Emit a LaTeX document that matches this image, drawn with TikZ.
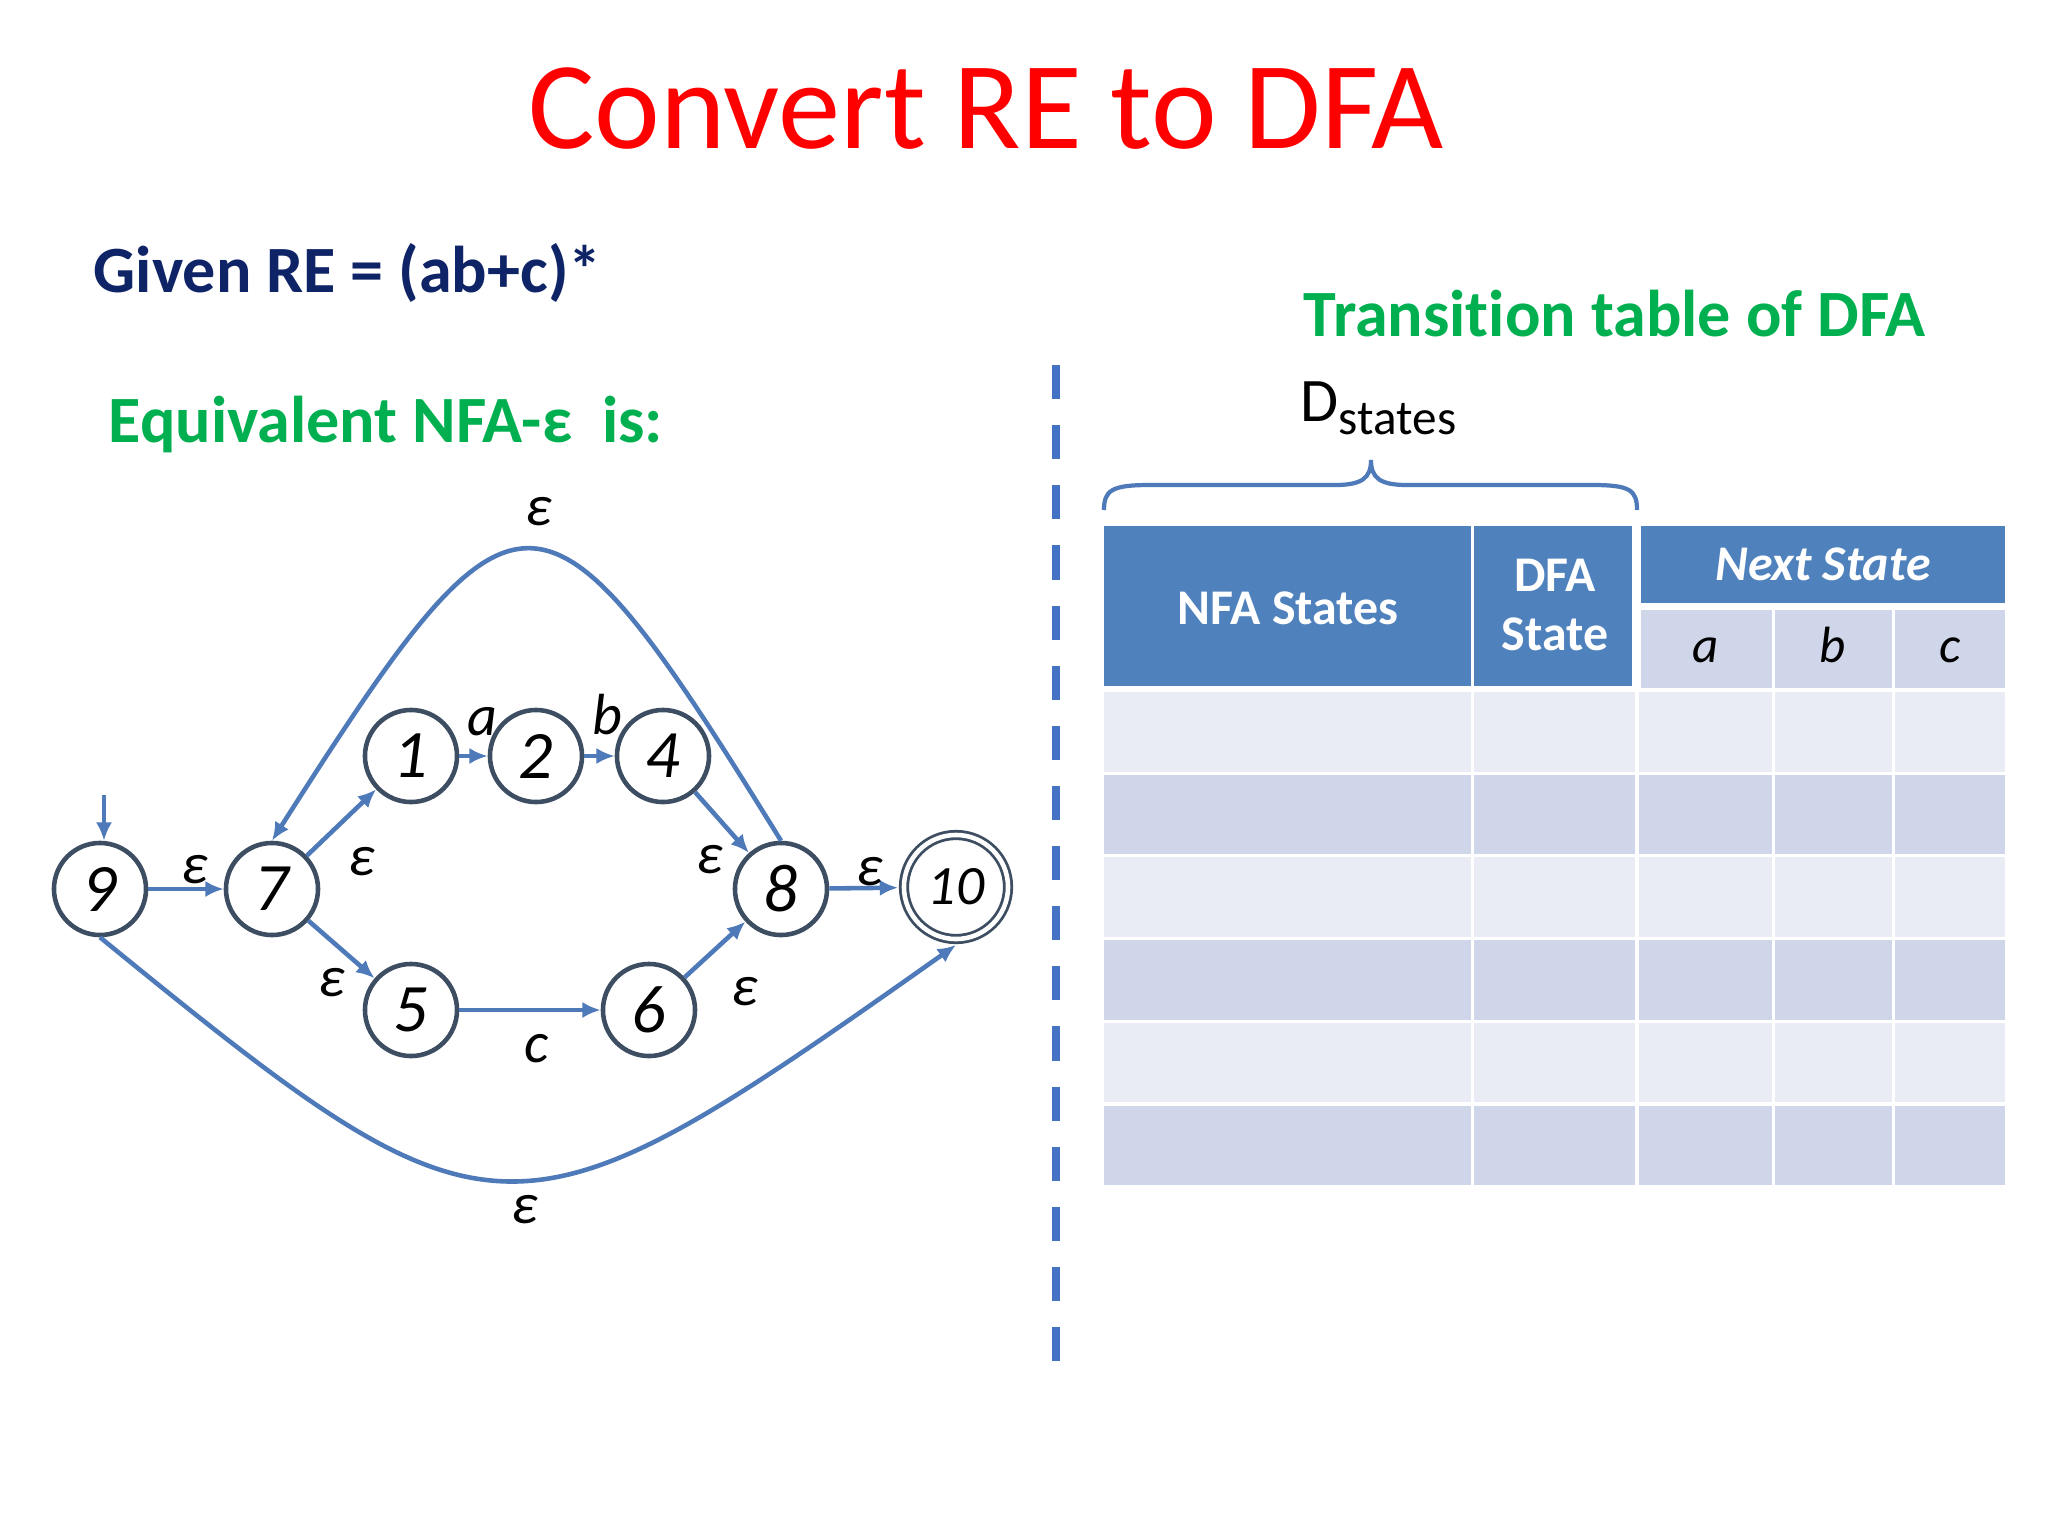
\documentclass[tikz,border=0pt]{standalone}
\usepackage{fontspec}
\setmainfont{Carlito}[Ligatures=NoCommon]
\usetikzlibrary{arrows.meta}
\definecolor{titlered}{RGB}{255,0,0}
\definecolor{navy}{RGB}{15,36,102}
\definecolor{grn}{RGB}{0,176,80}
\definecolor{hdr}{RGB}{79,129,189}
\definecolor{rowlt}{RGB}{233,235,245}
\definecolor{rowdk}{RGB}{208,214,233}
\definecolor{edgeblue}{RGB}{79,122,185}
\definecolor{ring}{RGB}{62,78,98}
\definecolor{dashblue}{RGB}{68,114,196}
\tikzset{
  nstate/.style={circle, draw=ring, line width=1.3pt, fill=white, minimum size=0.92cm, inner sep=0pt,
    font=\fontsize{19.3}{22}\selectfont\itshape},
  arr/.style={draw=edgeblue, line width=1.3pt, -{Latex[length=5.2pt,width=4.6pt]}},
  lbl/.style={font=\fontsize{16.5}{19}\selectfont\itshape, inner sep=0pt},
  headbig/.style={font=\fontsize{18.8}{22}\selectfont\bfseries, inner sep=0pt},
  hdrtext/.style={text=white, font=\fontsize{14.2}{17}\selectfont\bfseries, inner sep=0pt},
  dashln/.style={draw=dashblue, line width=2.3pt, dash pattern=on 9.7pt off 7.4pt},
  bracestyle/.style={draw=edgeblue, line width=1.2pt}
}
\begin{document}
\begin{tikzpicture}[x=0.01cm, y=-0.01cm]
\useasboundingbox (0,0) rectangle (2048,1536);
\fill[white] (0,0) rectangle (2048,1536);

% titles
\node[anchor=base, inner sep=0pt, text=titlered, font=\fontsize{35.4}{40}\selectfont] (title) at (986,148) {Convert RE to DFA};
\node[anchor=base west, headbig, text=navy] (given) at (93,292) {Given RE = (ab+c)*};
\node[anchor=base west, headbig, text=grn] (equiv) at (108,442) {Equivalent NFA-ε~ is:};
\node[anchor=base west, headbig, text=grn] (trans) at (1303,336) {Transition table of DFA};
\node[anchor=base west, inner sep=0pt, font=\fontsize{17.6}{20}\selectfont] (dstates) at (1300,421)
  {D\raisebox{-3.7pt}{\fontsize{14}{16}\selectfont states}};

% dashed divider
\draw[dashln] (1056,365) -- (1056,1382);

% brace
\draw[bracestyle] (1104,510) .. controls (1104,490) and (1112,485) .. (1150,485) -- (1335,485)
  .. controls (1362,485) and (1371,478) .. (1371,460)
  .. controls (1371,478) and (1380,485) .. (1407,485) -- (1592,485)
  .. controls (1630,485) and (1637,490) .. (1637,510);

% table header
\fill[hdr] (1104,526) rectangle (1471,686);
\fill[hdr] (1474,526) rectangle (1632,686);
\fill[hdr] (1641,526) rectangle (2005,603);
\fill[rowdk] (1641,610) rectangle (1772,688);
\fill[rowdk] (1775,610) rectangle (1892,688);
\fill[rowdk] (1895,610) rectangle (2005,688);
\node[hdrtext, anchor=base] (hnfa) at (1288,624) {NFA States};
\node[hdrtext, align=center, font=\fontsize{14.2}{17}\selectfont\bfseries] (hdfa) at (1555,605) {DFA\\[-0.2pt]State};
\node[hdrtext, anchor=base, font=\fontsize{14.2}{17}\selectfont\bfseries\itshape] (hnext) at (1823,580) {Next State};
\node[anchor=base, inner sep=0pt, font=\fontsize{14.5}{17}\selectfont\itshape] (ha) at (1706,662) {a};
\node[anchor=base, inner sep=0pt, font=\fontsize{14.5}{17}\selectfont\itshape] (hb) at (1833,662) {b};
\node[anchor=base, inner sep=0pt, font=\fontsize{14.5}{17}\selectfont\itshape] (hc) at (1950,662) {c};

% table body
\foreach \i in {0,...,5} {
  \pgfmathsetmacro\yt{692+82.7*\i}
  \pgfmathsetmacro\yb{\yt+79.5}
  \pgfmathtruncatemacro\odd{mod(\i,2)}
  \ifnum\odd=0 \def\rc{rowlt}\else\def\rc{rowdk}\fi
  \foreach \xa/\xb in {1104/1471,1474/1635,1639/1772,1775/1892,1895/2005}
    \fill[\rc] (\xa,\yt) rectangle (\xb,\yb);
}

% NFA states
\node[nstate] (n9) at (100,889) {9};
\node[nstate] (n7) at (272,889) {7};
\node[nstate] (n1) at (411,756) {1};
\node[nstate] (n2) at (536,756) {2};
\node[nstate] (n4) at (663,756) {4};
\node[nstate] (n8) at (781,889) {8};
\node[nstate] (n5) at (411,1010) {5};
\node[nstate] (n6) at (649,1010) {6};
\node[nstate, minimum size=1.04cm, line width=0.8pt, double=white, double distance=1.3pt, outer sep=1.7pt,
  font=\fontsize{15.8}{18}\selectfont\itshape] (n10) at (956,887) {10};

% edges
\coordinate (start) at (104,795);
\draw[arr] (start) -- (n9.north -| start);
\draw[arr] (n9) -- (n7);
\draw[arr] (n7) -- (n1);
\draw[arr] (n7) -- (n5);
\draw[arr] (n1) -- (n2);
\draw[arr] (n2) -- (n4);
\draw[arr] (n4) -- (n8);
\draw[arr] (n5) -- (n6);
\draw[arr] (n6) -- (n8);
\draw[arr] (n8) -- (n10);
\draw[arr] (n8.north) .. controls (541,453) and (519,453) .. (n7.north);
\draw[arr] (n9.south) .. controls (496,1260) and (510,1260) .. (n10.south);

% edge labels
\node[lbl] (l97) at (195,870) {ε};
\node[lbl] (l71) at (362,862) {ε};
\node[lbl] (l75) at (332,983) {ε};
\node[lbl] (l12) at (482,722) {a};
\node[lbl] (l24) at (607,715) {b};
\node[lbl] (l48) at (710,860) {ε};
\node[lbl] (l68) at (745,992) {ε};
\node[lbl] (l810) at (870,872) {ε};
\node[lbl] (l56) at (537,1049) {c};
\node[lbl] (ltop) at (539,512) {ε};
\node[lbl] (lbot) at (525,1210) {ε};
\end{tikzpicture}
\end{document}
